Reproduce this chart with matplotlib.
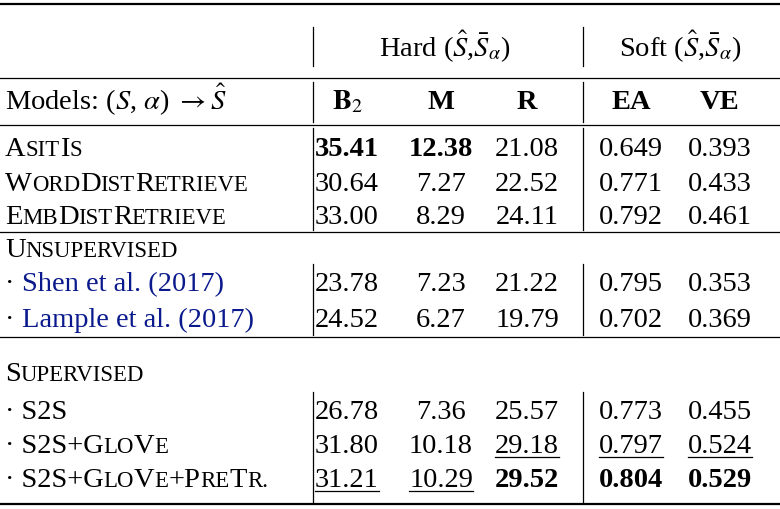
import matplotlib
matplotlib.use("Agg")
import matplotlib.pyplot as plt

plt.rcParams['font.family'] = ['Liberation Serif', 'DejaVu Serif']
plt.rcParams['mathtext.fontset'] = 'stix'

col_headers = [r"$\mathbf{B}_2$", "M", "R", "EA", "VE"]
rows = [
    ("AsItIs", [[("A", 1), ("SIT", .8), ("I", 1), ("S", .8)]], ["35.41", "12.38", "21.08", "0.649", "0.393"]),
    ("WordDistRetrieve", [[("W", 1), ("ORD", .8), ("D", 1), ("IST", .8), ("R", 1), ("ETRIEVE", .8)]], ["30.64", "7.27", "22.52", "0.771", "0.433"]),
    ("EmbDistRetrieve", [[("E", 1), ("MB", .8), ("D", 1), ("IST", .8), ("R", 1), ("ETRIEVE", .8)]], ["33.00", "8.29", "24.11", "0.792", "0.461"]),
    ("Shen", None, ["23.78", "7.23", "21.22", "0.795", "0.353"]),
    ("Lample", None, ["24.52", "6.27", "19.79", "0.702", "0.369"]),
    ("S2S", None, ["26.78", "7.36", "25.57", "0.773", "0.455"]),
    ("S2S+GloVe", [[("· S2S+G", 1), ("LO", .8), ("V", 1), ("E", .8)]], ["31.80", "10.18", "29.18", "0.797", "0.524"]),
    ("S2S+GloVe+PreTr.", [[("· S2S+G", 1), ("LO", .8), ("V", 1), ("E", .8), ("+P", 1), ("RE", .8), ("T", 1), ("R.", .8)]], ["31.21", "10.29", "29.52", "0.804", "0.529"]),
]
bold = {(0, 0), (0, 1), (7, 2), (7, 3), (7, 4)}
under = {(6, 2), (6, 3), (6, 4), (7, 0), (7, 1)}

row_y = [147, 182, 215, 282, 318, 410, 444, 478]
col_x = [347, 441, 527, 631, 720]
FS = 20.5
BLUE = "#0a1a8c"

fig = plt.figure(figsize=(7.8, 5.09), dpi=100)
ax = fig.add_axes([0, 0, 1, 1])
ax.set_xlim(0, 780); ax.set_ylim(509, 0); ax.axis('off')
r = fig.canvas.get_renderer()

def seq(x, y, pieces):
    for t, s, c in pieces:
        tx = ax.text(x, y, t, fontsize=FS * s, color=c, va='baseline', ha='left')
        bb = tx.get_window_extent(r)
        x += bb.width

def base(y):
    return y + 9

ax.text(445, base(47), r"Hard ($\hat{S}$,$\bar{S}_\alpha$)", fontsize=FS, ha='center', va='baseline')
ax.text(680, base(47), r"Soft ($\hat{S}$,$\bar{S}_\alpha$)", fontsize=FS, ha='center', va='baseline')
ax.text(5, base(100), r"Models: ($S$, $\alpha$) $\rightarrow \hat{S}$", fontsize=FS, ha='left', va='baseline')
for x, h in zip(col_x, col_headers):
    ax.text(x, base(100), h, fontsize=FS, ha='center', va='baseline', fontweight='bold')

for i, (name, sc, vals) in enumerate(rows):
    y = base(row_y[i])
    if name == "Shen":
        seq(5, y, [("· ", 1, 'black'), ("Shen et al. (2017)", 1, BLUE)])
    elif name == "Lample":
        seq(5, y, [("· ", 1, 'black'), ("Lample et al. (2017)", 1, BLUE)])
    elif name == "S2S":
        seq(5, y, [("· S2S", 1, 'black')])
    else:
        seq(5, y, [(t, s, 'black') for t, s in sc[0]])
    for j, v in enumerate(vals):
        t = ax.text(col_x[j], y, v, fontsize=FS, ha='center', va='baseline',
                    fontweight='bold' if (i, j) in bold else 'normal')
        if (i, j) in under:
            bb = t.get_window_extent(r)
            ax.plot([bb.x0, bb.x1], [y + 4, y + 4], color='black', lw=0.9)

seq(5, base(248), [("U", 1, 'black'), ("NSUPERVISED", .8, 'black')])
seq(5, base(372), [("S", 1, 'black'), ("UPERVISED", .8, 'black')])

ax.plot([0, 780], [4, 4], color='black', lw=1.6)
ax.plot([0, 780], [78, 78], color='black', lw=0.9)
ax.plot([0, 780], [125, 125], color='black', lw=0.9)
ax.plot([0, 780], [232, 232], color='black', lw=0.9)
ax.plot([0, 780], [337, 337], color='black', lw=0.9)
ax.plot([0, 780], [504, 504], color='black', lw=1.6)

for x in (313, 583):
    for y0, y1 in [(27, 66), (82, 122), (128, 230), (264, 335), (392, 502)]:
        ax.plot([x, x], [y0, y1], color='black', lw=0.9)

fig.savefig("out.png", dpi=100)
